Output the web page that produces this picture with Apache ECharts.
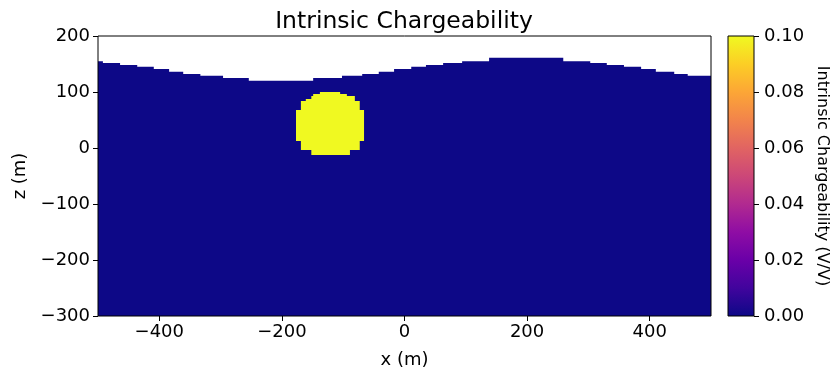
<!DOCTYPE html>
<html><head><meta charset="utf-8">
<script src="https://cdn.jsdelivr.net/npm/echarts@6/dist/echarts.min.js"></script>
<style>html,body{margin:0;padding:0;background:#fff}#c{width:838px;height:379px}</style>
</head><body><div id="c"></div>
<script>
// Topography: column edges (m) and top elevation of each column (m)
const topoEdges = [-500,-492,-464,-436,-409,-384,-361,-333,-296,-254,-149,-102,-69,-42,-17,11,35,63,94,138,259,303,330,358,386,410,440,462,500];
const topoTops  = [155,152,148,145,141,136,132,129,125,120,125,129,132,136,141,145,148,152,155,161,155,152,148,145,141,136,132,129];
const meshBottom = -300;
const backgroundValue = 0.0;
// Sphere: rows of cells from top to bottom (z bottom, z top, x left, x right)
const sphereZBot = [96.4, 92.9, 87.5, 83.9, 67.9, 12.5, -3.6, -12.5];
const sphereZTop = [100, 96.4, 92.9, 87.5, 83.9, 67.9, 12.5, -3.6];
const sphereXL   = [-138, -149, -152, -161, -169, -177, -169, -152];
const sphereXR   = [-105, -94, -81, -81, -73, -66, -73, -89];
const sphereValue = 0.1;
// Colorbar
const cbMin = 0, cbMax = 0.1, cbStep = 0.02;
const plasma = ['#0d0887','#41049d','#6a00a8','#8f0da4','#b12a90','#cc4778','#e16462','#f2844b','#fca636','#fcce25','#f0f921'];
const cmap = v => echarts.color.lerp(Math.max(0, Math.min(1, (v - cbMin) / (cbMax - cbMin))), plasma);

const FONT = 'DejaVu Sans';
const minus = v => String(v).replace('-', '\u2212');
const lbl = {color:'#000', fontFamily:FONT, fontSize:18};

const chart = echarts.init(document.getElementById('c'), null, {renderer:'canvas'});
chart.setOption({
  animation:false,
  title:{text:'Intrinsic Chargeability', left:399, top:5, textAlign:'center',
    textStyle:{color:'#000', fontFamily:FONT, fontSize:23.5, fontWeight:'normal'}},
  grid:[
    {left:98, top:36, width:613, height:280, show:true, borderColor:'#000', borderWidth:1, backgroundColor:'transparent', z:3},
    {left:98+61.3, top:36, width:490.4, height:280, show:false},
    {left:728, top:36, width:26, height:280, show:true, borderColor:'#000', borderWidth:1, z:3}
  ],
  xAxis:[
    {gridIndex:0, type:'value', min:-500, max:500, show:true, axisLine:{show:false, onZero:false}, axisTick:{show:false}, axisLabel:{show:false}, splitLine:{show:false},
      name:'x (m)', nameLocation:'middle', nameGap:35, nameTextStyle:lbl},
    {gridIndex:1, type:'value', min:-400, max:400, interval:200, axisLine:{show:false, onZero:false},
      axisTick:{show:true, inside:false, length:5, lineStyle:{color:'#000'}},
      axisLabel:Object.assign({margin:7, formatter:minus}, lbl), splitLine:{show:false}},
    {gridIndex:2, type:'value', min:0, max:1, show:false, axisLine:{show:false, onZero:false}, axisTick:{show:false}, axisLabel:{show:false}, splitLine:{show:false}}
  ],
  yAxis:[
    {gridIndex:0, type:'value', min:-300, max:200, interval:100, axisLine:{show:false, onZero:false},
      axisTick:{show:true, inside:false, length:5, lineStyle:{color:'#000'}},
      axisLabel:Object.assign({margin:8, formatter:minus}, lbl), splitLine:{show:false},
      name:'z (m)', nameLocation:'middle', nameGap:66, nameRotate:90, nameTextStyle:lbl},
    {gridIndex:1, type:'value', min:-300, max:200, show:false, axisLine:{show:false, onZero:false}, axisTick:{show:false}, axisLabel:{show:false}, splitLine:{show:false}},
    {gridIndex:2, type:'value', min:cbMin, max:cbMax, interval:cbStep, position:'right', axisLine:{show:false, onZero:false},
      axisTick:{show:true, inside:false, length:5, lineStyle:{color:'#000'}},
      axisLabel:Object.assign({margin:10, formatter:v=>v.toFixed(2)}, lbl), splitLine:{show:false},
      name:'Intrinsic Chargeability (V/V)', nameLocation:'middle', nameGap:60, nameRotate:-90,
      nameTextStyle:{color:'#000', fontFamily:FONT, fontSize:16}}
  ],
  series:[
    {type:'custom', xAxisIndex:0, yAxisIndex:0, clip:true, data:[[backgroundValue]], z:1, silent:true,
      renderItem:function(params, api){
        const pts = [api.coord([topoEdges[0], meshBottom])];
        for (let i = 0; i < topoTops.length; i++) {
          pts.push(api.coord([topoEdges[i], topoTops[i]]));
          pts.push(api.coord([topoEdges[i + 1], topoTops[i]]));
        }
        pts.push(api.coord([topoEdges[topoEdges.length - 1], meshBottom]));
        return {type:'polygon', shape:{points:pts}, style:{fill:cmap(api.value(0)), stroke:null, lineWidth:0}};
      }},
    {type:'custom', xAxisIndex:0, yAxisIndex:0, clip:true, data:[[sphereValue]], z:2, silent:true,
      renderItem:function(params, api){
        const pts = [];
        for (let i = 0; i < sphereZTop.length; i++) {
          pts.push(api.coord([sphereXR[i], sphereZTop[i]]));
          pts.push(api.coord([sphereXR[i], sphereZBot[i]]));
        }
        for (let i = sphereZTop.length - 1; i >= 0; i--) {
          pts.push(api.coord([sphereXL[i], sphereZBot[i]]));
          pts.push(api.coord([sphereXL[i], sphereZTop[i]]));
        }
        return {type:'polygon', shape:{points:pts}, style:{fill:cmap(api.value(0)), stroke:null, lineWidth:0}};
      }},
    {type:'custom', xAxisIndex:2, yAxisIndex:2, data:[[0,1,cbMin,cbMax]], z:1, silent:true,
      renderItem:function(params, api){
        const p0 = api.coord([api.value(0), api.value(3)]);
        const p1 = api.coord([api.value(1), api.value(2)]);
        const stops = plasma.map((c,i)=>({offset:i/(plasma.length-1), color:c}));
        return {type:'rect', shape:{x:p0[0], y:p0[1], width:p1[0]-p0[0], height:p1[1]-p0[1]},
          style:{fill:new echarts.graphic.LinearGradient(0,1,0,0,stops), stroke:null, lineWidth:0}};
      }}
  ]
});
</script></body></html>
